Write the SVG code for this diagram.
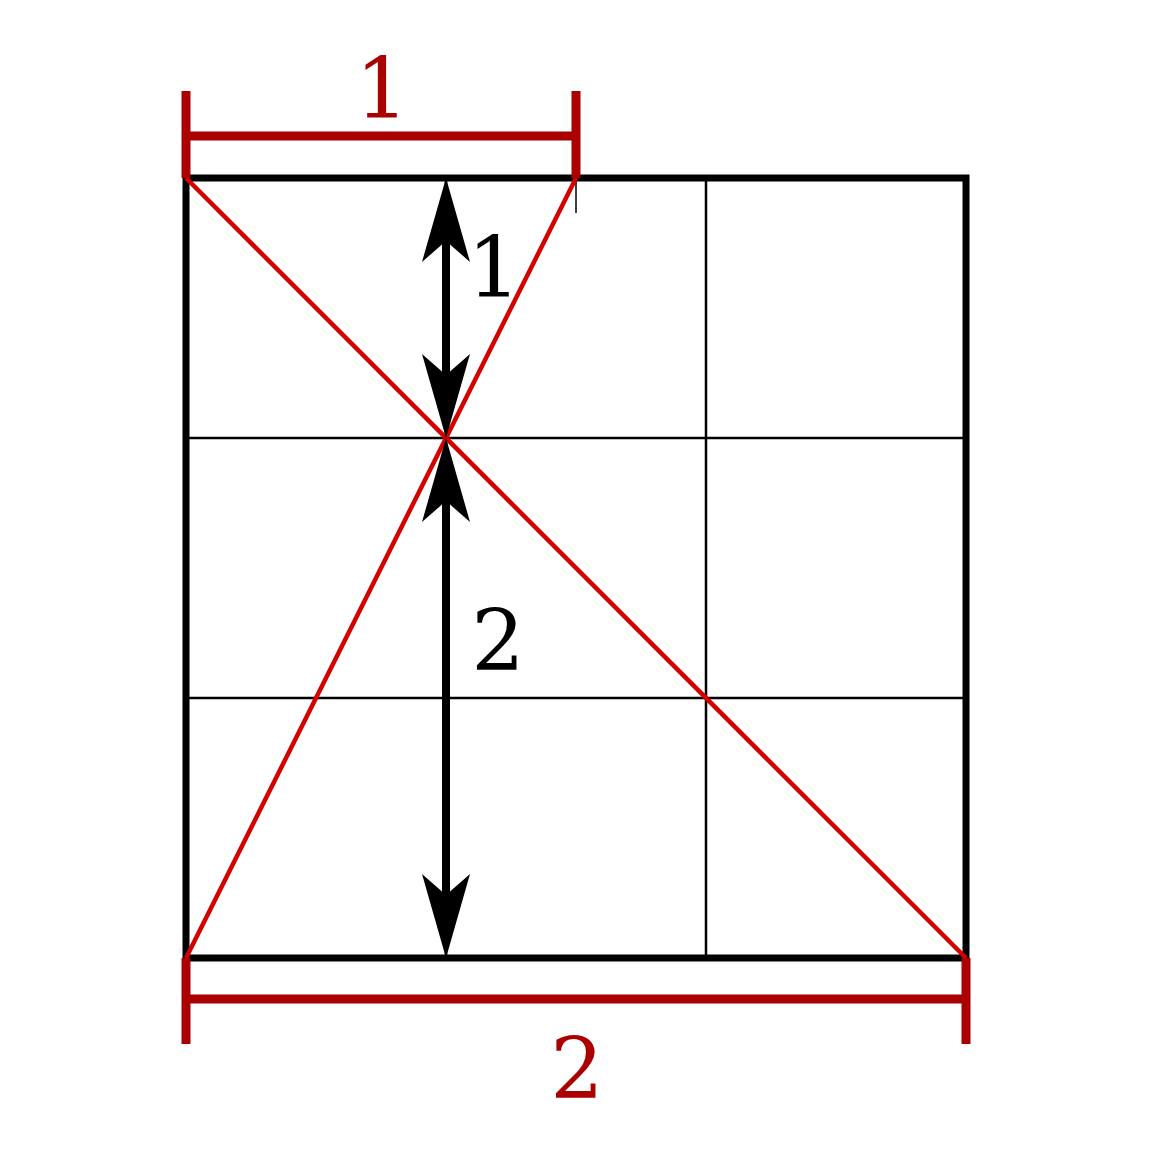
<svg xmlns="http://www.w3.org/2000/svg" width="1153" height="1153" viewBox="0 0 1153 1153">
<style>
.grid{stroke:#000;stroke-width:2.5;fill:none}
.frame{stroke:#000;stroke-width:7;fill:none}
.diag{stroke:#d40000;stroke-width:4.5;fill:none}
.dim{stroke:#aa0000;stroke-width:9;fill:none}
.shaft{stroke:#000;stroke-width:8;fill:none}
.lbl{font-family:"DejaVu Serif",serif;font-size:84px;text-anchor:middle}
</style>
<defs>
<path id="head" d="M0,0 L-24,-84 L0,-63 L24,-84 Z" fill="#000"/>
</defs>
<rect width="1153" height="1153" fill="#fff"/>
<g id="grid">
<line class="grid" x1="446" y1="178" x2="446" y2="958"/>
<line class="grid" x1="706" y1="178" x2="706" y2="958"/>
<line class="grid" x1="186" y1="438" x2="966" y2="438"/>
<line class="grid" x1="186" y1="698" x2="966" y2="698"/>
<line x1="576" y1="178" x2="576" y2="213" stroke="#000" stroke-width="1.5"/>
</g>
<g id="frame">
<rect class="frame" x="186" y="178" width="780" height="780"/>
</g>
<g id="connectors">
<line class="diag" x1="186" y1="178" x2="966" y2="958"/>
<line class="diag" x1="576" y1="178" x2="186" y2="958"/>
<line class="shaft" x1="446" y1="235" x2="446" y2="380"/>
<line class="shaft" x1="446" y1="495" x2="446" y2="900"/>
<use href="#head" transform="translate(446,178) rotate(180)"/>
<use href="#head" transform="translate(446,438)"/>
<use href="#head" transform="translate(446,438) rotate(180)"/>
<use href="#head" transform="translate(446,958)"/>
</g>
<g id="dim-top">
<line class="dim" x1="186" y1="91" x2="186" y2="178"/>
<line class="dim" x1="576" y1="91" x2="576" y2="178"/>
<line class="dim" x1="186" y1="136" x2="576" y2="136"/>
<text class="lbl" x="382" y="118" fill="#aa0000">1</text>
</g>
<g id="dim-bottom">
<line class="dim" x1="186" y1="958" x2="186" y2="1044"/>
<line class="dim" x1="966" y1="958" x2="966" y2="1044"/>
<line class="dim" x1="186" y1="999" x2="966" y2="999"/>
<text class="lbl" x="577" y="1098" fill="#aa0000">2</text>
</g>
<g id="labels">
<text class="lbl" x="494" y="297" fill="#000">1</text>
<text class="lbl" x="498" y="670" fill="#000">2</text>
</g>
</svg>
